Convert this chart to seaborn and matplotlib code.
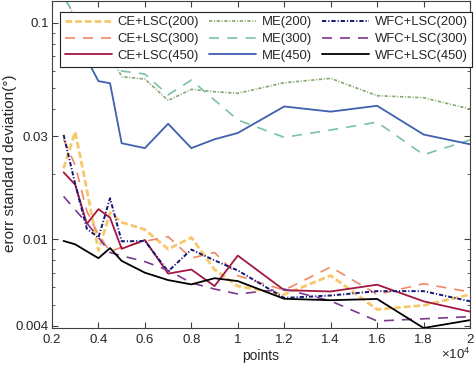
import matplotlib
matplotlib.use('Agg')
import matplotlib.pyplot as plt
import seaborn as sns
from matplotlib.ticker import FuncFormatter, LogLocator, NullFormatter

# number of points (x axis)
points = [2500, 3000, 3500, 4000, 4500, 5000, 6000, 7000, 8000,
          9000, 10000, 12000, 14000, 16000, 18000, 20000]

# error standard deviation per method
ce_lsc_200 = [0.0213, 0.0314, 0.0170, 0.00888, 0.0133, 0.0120, 0.0111, 0.00902,
              0.0102, 0.00726, 0.00609, 0.00557, 0.00681, 0.00475, 0.00496, 0.00557]
ce_lsc_300 = [0.029, 0.022, 0.0135, 0.0105, 0.0088, 0.0092, 0.0098, 0.0103,
              0.0082, 0.0087, 0.0068, 0.00583, 0.00746, 0.00557, 0.00624, 0.00572]
ce_lsc_450 = [0.0204, 0.0179, 0.0118, 0.0138, 0.0126, 0.00905, 0.00994, 0.00695,
              0.00726, 0.00609, 0.00842, 0.00583, 0.00575, 0.00618, 0.00518, 0.00464]
me_200 = [0.135, 0.105, 0.09, 0.08, 0.072, 0.0564, 0.0550, 0.0438,
          0.0493, 0.0481, 0.0473, 0.0529, 0.0554, 0.0461, 0.0451, 0.0400]
me_300 = [0.13, 0.11, 0.09, 0.078, 0.07, 0.0599, 0.0580, 0.0465,
          0.0544, 0.0440, 0.0356, 0.0296, 0.0320, 0.0348, 0.0246, 0.0288]
me_450 = [0.105, 0.088, 0.068, 0.0538, 0.0526, 0.0278, 0.0264, 0.0342,
          0.0264, 0.0290, 0.0310, 0.0411, 0.0389, 0.0414, 0.0305, 0.0275]
wfc_lsc_200 = [0.0304, 0.018, 0.0112, 0.0102, 0.0155, 0.00980, 0.00983, 0.00712,
               0.00898, 0.00800, 0.00719, 0.00537, 0.00551, 0.00577, 0.00577, 0.00518]
wfc_lsc_300 = [0.0158, 0.0137, 0.0119, 0.0102, 0.0087, 0.0084, 0.0079, 0.0072,
               0.0063, 0.0059, 0.0056, 0.0059, 0.0052, 0.0042, 0.0043, 0.0044]
wfc_lsc_450 = [0.00984, 0.00949, 0.00881, 0.00819, 0.00912, 0.00796, 0.00702, 0.00649,
               0.00620, 0.00662, 0.00642, 0.00532, 0.00524, 0.00531, 0.0039, 0.00424]

series = [
    ('CE+LSC(200)', ce_lsc_200, '#F7C86B', (0, (2.4, 1.1)), 2.0),
    ('CE+LSC(300)', ce_lsc_300, '#EE8866', (0, (6, 4.8)), 1.2),
    ('CE+LSC(450)', ce_lsc_450, '#A3173F', '-', 1.3),
    ('ME(200)', me_200, '#86A86C', (0, (2.0, 1.0, 0.6, 1.0)), 1.2),
    ('ME(300)', me_300, '#78C2A6', (0, (6, 5)), 1.2),
    ('ME(450)', me_450, '#3F5FAF', '-', 1.3),
    ('WFC+LSC(200)', wfc_lsc_200, '#16167A', (0, (2.2, 1.0, 0.6, 1.0)), 1.4),
    ('WFC+LSC(300)', wfc_lsc_300, '#7B3A8E', (0, (6, 4.8)), 1.2),
    ('WFC+LSC(450)', wfc_lsc_450, '#000000', '-', 1.3),
]

sns.set_style('ticks')
plt.rcParams['font.family'] = ['Liberation Sans', 'DejaVu Sans']
plt.rcParams['mathtext.fontset'] = 'custom'
plt.rcParams['mathtext.rm'] = 'Liberation Sans'
plt.rcParams['mathtext.it'] = 'Liberation Sans'

fig = plt.figure(figsize=(4.74, 3.65), dpi=100)
ax = fig.add_axes([0.1097, 0.1014, 0.8819, 0.8956])

for name, vals, col, ls, lw in series:
    sns.lineplot(x=points, y=vals, ax=ax, color=col, linestyle=ls,
                 linewidth=lw, label=name)

ax.set_yscale('log')
ax.set_xlim(2000, 20000)
ax.set_ylim(0.0039, 0.126)

ax.set_xticks(range(2000, 20001, 2000))
ax.xaxis.set_major_formatter(FuncFormatter(lambda v, p: '%g' % (v / 1e4)))
ax.set_yticks([0.004, 0.01, 0.03, 0.1])
ax.set_yticklabels(['0.004', '0.01', '0.03', '0.1'])
ax.yaxis.set_minor_locator(LogLocator(base=10, subs=range(2, 10)))
ax.yaxis.set_minor_formatter(NullFormatter())

ax.tick_params(which='both', direction='in', top=True, right=True,
               colors='#404040', labelcolor='#262626', labelsize=9.5)
ax.tick_params(which='major', length=4, width=0.8)
ax.tick_params(which='minor', length=2.5, width=0.6)
ax.tick_params(axis='x', pad=4.5)
ax.tick_params(axis='y', pad=2.5)
for sp in ax.spines.values():
    sp.set_color('#404040')
    sp.set_linewidth(0.8)

ax.set_xlabel('points', fontsize=10, color='#262626', labelpad=2)
ax.set_ylabel('erorr standard deviation(°)', fontsize=11, color='#262626')
ax.yaxis.set_label_coords(-0.084, 0.505)
ax.text(1.0, -0.058, '×10$^{4}$', transform=ax.transAxes, ha='right', va='top',
        fontsize=9.5, color='#262626')

leg = ax.legend(loc='upper left', bbox_to_anchor=(0.019, 0.968), borderaxespad=0,
                ncol=3, fontsize=9.4, frameon=True, fancybox=False, framealpha=1,
                edgecolor='#222222', handlelength=3.6, handletextpad=0.45,
                columnspacing=0.75, labelspacing=0.36, borderpad=0.35)
leg.get_frame().set_linewidth(0.8)

fig.savefig('out.png', dpi=100)
